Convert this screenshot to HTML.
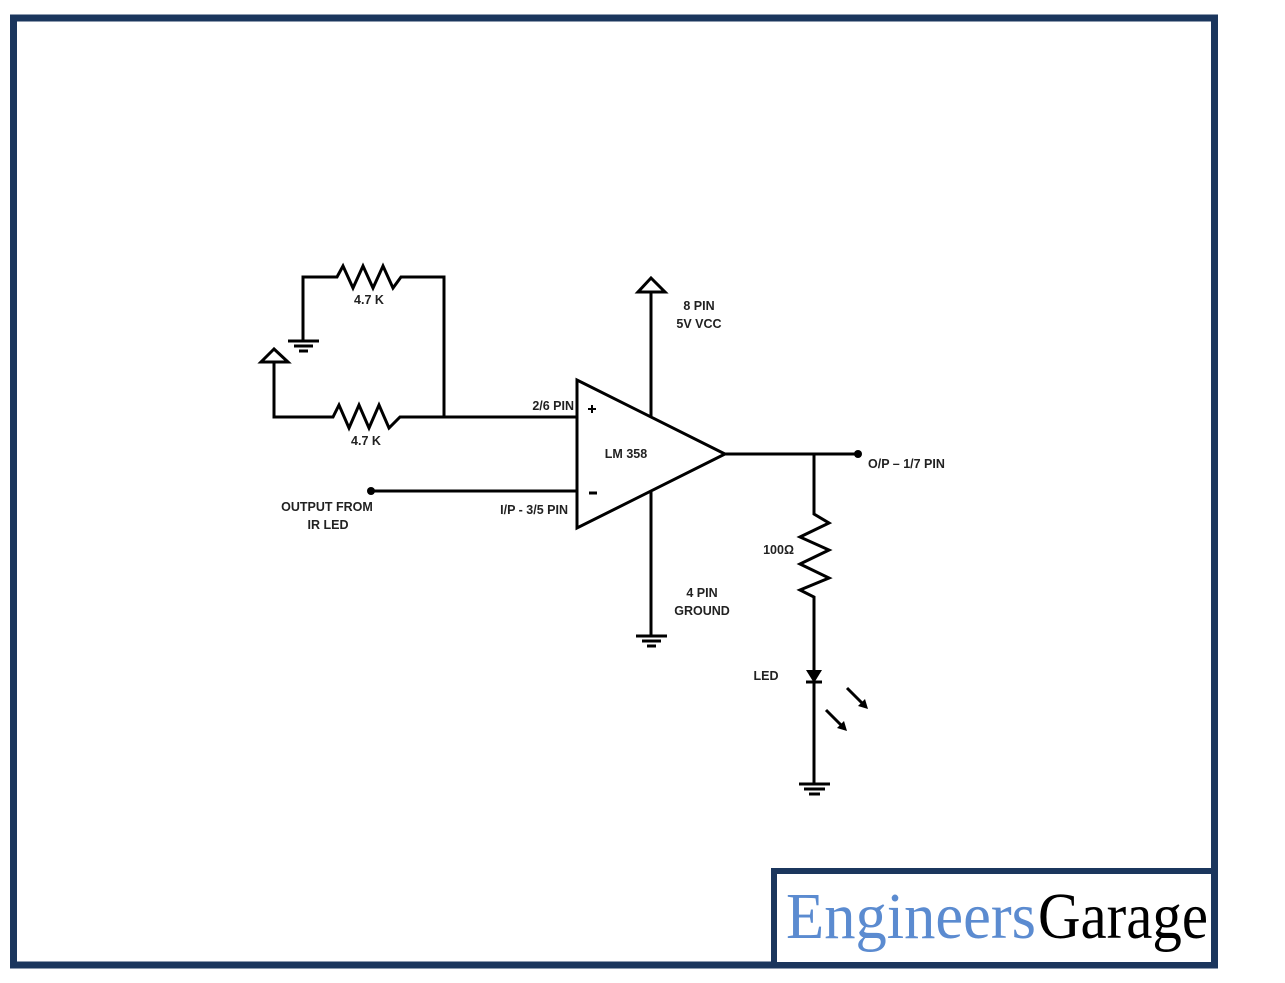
<!DOCTYPE html>
<html><head><meta charset="utf-8"><style>
html,body{margin:0;padding:0;background:#fff;}
svg{display:block}
text{font-family:"Liberation Sans",sans-serif;font-weight:bold;font-size:12.5px;fill:#222}
</style></head><body>
<svg width="1285" height="983" viewBox="0 0 1285 983" xmlns="http://www.w3.org/2000/svg">
<rect x="13.5" y="18" width="1201" height="947" fill="none" stroke="#1b365d" stroke-width="7"/>
<rect x="774" y="871" width="440" height="94" fill="#fff" stroke="#1b365d" stroke-width="6"/>
<g fill="none" stroke="#000" stroke-width="3" stroke-linejoin="miter">
<polyline points="303,340 303,277 337,277 343,266 353,288 363,266 373,288 383,266 393,288 401,277 444,277 444,417"/>
<line x1="288" y1="341" x2="319" y2="341"/><line x1="294" y1="346" x2="313" y2="346"/><line x1="299" y1="351" x2="308" y2="351"/>
<polygon points="274,349 261,362 288,362"/>
<polyline points="274,362 274,417 333,417 339,405 349,428 359,405 369,428 379,405 389,428 400,417 577,417"/>
<polygon points="577,380 577,528 725,454"/>
<line x1="371" y1="491" x2="577" y2="491"/>
<polygon points="651,278 638,292 665,292"/>
<line x1="651" y1="292" x2="651" y2="416"/>
<line x1="651" y1="492" x2="651" y2="635"/>
<line x1="636" y1="636" x2="667" y2="636"/><line x1="642" y1="641" x2="661" y2="641"/><line x1="647" y1="646" x2="656" y2="646"/>
<line x1="725" y1="454" x2="858" y2="454"/>
<polyline points="814,454 814,514 829,523 800,537 829,550 800,564 829,578 800,590 814,597 814,783"/>
<line x1="806" y1="682" x2="822" y2="682"/>
<line x1="799" y1="784" x2="830" y2="784"/><line x1="804" y1="789" x2="825" y2="789"/><line x1="809" y1="794" x2="820" y2="794"/>
<line x1="847" y1="688" x2="864" y2="705"/><line x1="826" y1="710" x2="843" y2="727"/>
<line x1="588" y1="409" x2="596" y2="409" stroke-width="2"/><line x1="592" y1="405" x2="592" y2="413" stroke-width="2"/>
<line x1="589" y1="493" x2="597" y2="493" stroke-width="3"/>
</g>
<polygon points="806,670 822,670 814,683" fill="#000"/>
<polygon points="868,709 858,706 865,699" fill="#000"/>
<polygon points="847,731 837,728 844,721" fill="#000"/>
<circle cx="371" cy="491" r="4" fill="#000"/>
<circle cx="858" cy="454" r="4" fill="#000"/>
<text x="369" y="304" text-anchor="middle">4.7 K</text>
<text x="366" y="445" text-anchor="middle">4.7 K</text>
<text x="574" y="410" text-anchor="end">2/6 PIN</text>
<text x="568" y="514" text-anchor="end">I/P - 3/5 PIN</text>
<text x="327" y="511" text-anchor="middle">OUTPUT FROM</text>
<text x="328" y="529" text-anchor="middle">IR LED</text>
<text x="626" y="458" text-anchor="middle">LM 358</text>
<text x="699" y="310" text-anchor="middle">8 PIN</text>
<text x="699" y="328" text-anchor="middle">5V VCC</text>
<text x="702" y="597" text-anchor="middle">4 PIN</text>
<text x="702" y="615" text-anchor="middle">GROUND</text>
<text x="868" y="468">O/P – 1/7 PIN</text>
<text x="794" y="554" text-anchor="end">100Ω</text>
<text x="766" y="680" text-anchor="middle">LED</text>
<text x="786" y="938" style="font-family:'Liberation Serif',serif;font-weight:normal;font-size:66px;fill:#5b8bd0" textLength="250" lengthAdjust="spacingAndGlyphs">Engineers</text>
<text x="1038" y="938" style="font-family:'Liberation Serif',serif;font-weight:normal;font-size:66px;fill:#000" textLength="170" lengthAdjust="spacingAndGlyphs">Garage</text>
</svg>
</body></html>
